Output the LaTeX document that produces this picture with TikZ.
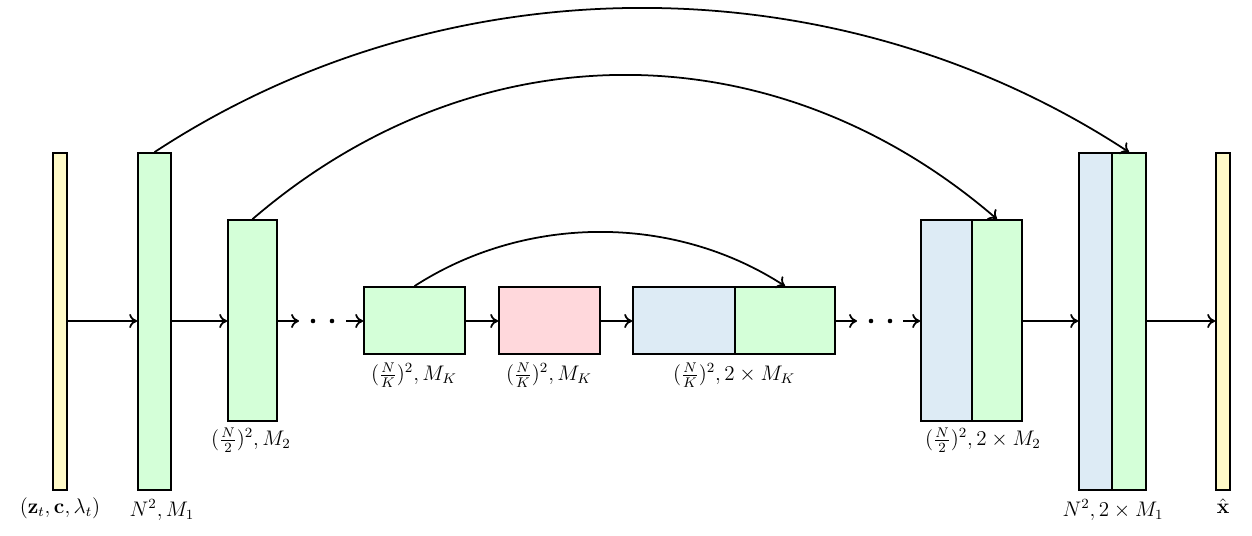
\documentclass[tikz,border=0pt]{standalone}
\usepackage{amsmath,amssymb}
\usetikzlibrary{arrows.meta,calc}
\definecolor{cgreen}{RGB}{212,255,216}
\definecolor{cred}{RGB}{255,216,220}
\definecolor{cblue}{RGB}{221,235,245}
\definecolor{cyellow}{RGB}{255,250,200}
\begin{document}
\begin{tikzpicture}[x=0.02cm,y=-0.02cm,
  blk/.style={draw,line width=1pt,inner sep=0pt,minimum height=#1},
  blk/.default=1.34cm,
  conn/.style={line width=1pt,-{To[length=4.5pt,width=8pt]}},
  dotc/.style={circle,fill=black,inner sep=0pt,minimum size=2.6pt},
  lbl/.style={inner sep=1pt,font=\large}]
\useasboundingbox (0,0) rectangle (1252,536);
\node[blk=6.74cm,fill=cyellow,minimum width=0.28cm] (in) at (60,321.5) {};
\node[blk=6.74cm,fill=cgreen,minimum width=0.66cm] (b1) at (154.5,321.5) {};
\node[blk=4.02cm,fill=cgreen,minimum width=0.98cm] (b2) at (252.5,320.5) {};
\node[blk,fill=cgreen,minimum width=2.02cm] (bk) at (414.5,320.5) {};
\node[blk,fill=cred,minimum width=2.02cm] (rd) at (549.5,320.5) {};
\node[blk,fill=cblue,minimum width=2.04cm] (u3b) at (684,320.5) {};
\node[blk,fill=cgreen,minimum width=2.0cm] (u3g) at (785,320.5) {};
\node[blk=4.02cm,fill=cblue,minimum width=1.02cm] (u2b) at (946.5,320.5) {};
\node[blk=4.02cm,fill=cgreen,minimum width=1.0cm] (u2g) at (997,320.5) {};
\node[blk=6.74cm,fill=cblue,minimum width=0.66cm] (u1b) at (1095.5,321.5) {};
\node[blk=6.74cm,fill=cgreen,minimum width=0.68cm] (u1g) at (1129,321.5) {};
\node[blk=6.74cm,fill=cyellow,minimum width=0.28cm] (out) at (1223,321.5) {};
% straight connectors
\coordinate (d1a) at (299,321); \coordinate (d1b) at (346,321);
\draw[conn] (in.east |- d1a) -- (b1.west |- d1a);
\draw[conn] (b1.east |- d1a) -- (b2.west |- d1a);
\draw[conn] (b2.east |- d1a) -- (d1a);
\node[dotc] (p1) at (313,321) {};
\node[dotc] (p2) at (332,321) {};
\draw[conn] (d1b) -- (bk.west |- d1b);
\draw[conn] (bk.east |- d1a) -- (rd.west |- d1a);
\draw[conn] (rd.east |- d1a) -- (u3b.west |- d1a);
\coordinate (d2a) at (857,321); \coordinate (d2b) at (903,321);
\draw[conn] (u3g.east |- d2a) -- (d2a);
\node[dotc] (p3) at (871,321) {};
\node[dotc] (p4) at (890,321) {};
\draw[conn] (d2b) -- (u2b.west |- d2b);
\draw[conn] (u2g.east |- d2b) -- (u1b.west |- d2b);
\draw[conn] (u1g.east |- d2b) -- (out.west |- d2b);
% skip arcs
\draw[conn] (b1.north) .. controls (447,-40) and (836,-40) .. (u1g.north);
\draw[conn] (b2.north) .. controls (476,27) and (774,27) .. (u2g.north);
\draw[conn] (bk.north) .. controls (526,214) and (674,214) .. (u3g.north);
% labels
\node[lbl] (l0) at (60,508) {$(\mathbf{z}_t,\mathbf{c},\lambda_t)$};
\node[lbl] (l1) at (162,510) {$N^2, M_1$};
\node[lbl] (l2) at (251,440) {$(\frac{N}{2})^2, M_2$};
\node[lbl] (l3) at (414,375) {$(\frac{N}{K})^2, M_K$};
\node[lbl] (l4) at (549,375) {$(\frac{N}{K})^2, M_K$};
\node[lbl] (l5) at (734,375) {$(\frac{N}{K})^2, 2\times M_K$};
\node[lbl] (l6) at (983,440) {$(\frac{N}{2})^2, 2\times M_2$};
\node[lbl] (l7) at (1113,510) {$N^2, 2\times M_1$};
\node[lbl] (l8) at (1223,506) {$\hat{\mathbf{x}}$};
\end{tikzpicture}
\end{document}
